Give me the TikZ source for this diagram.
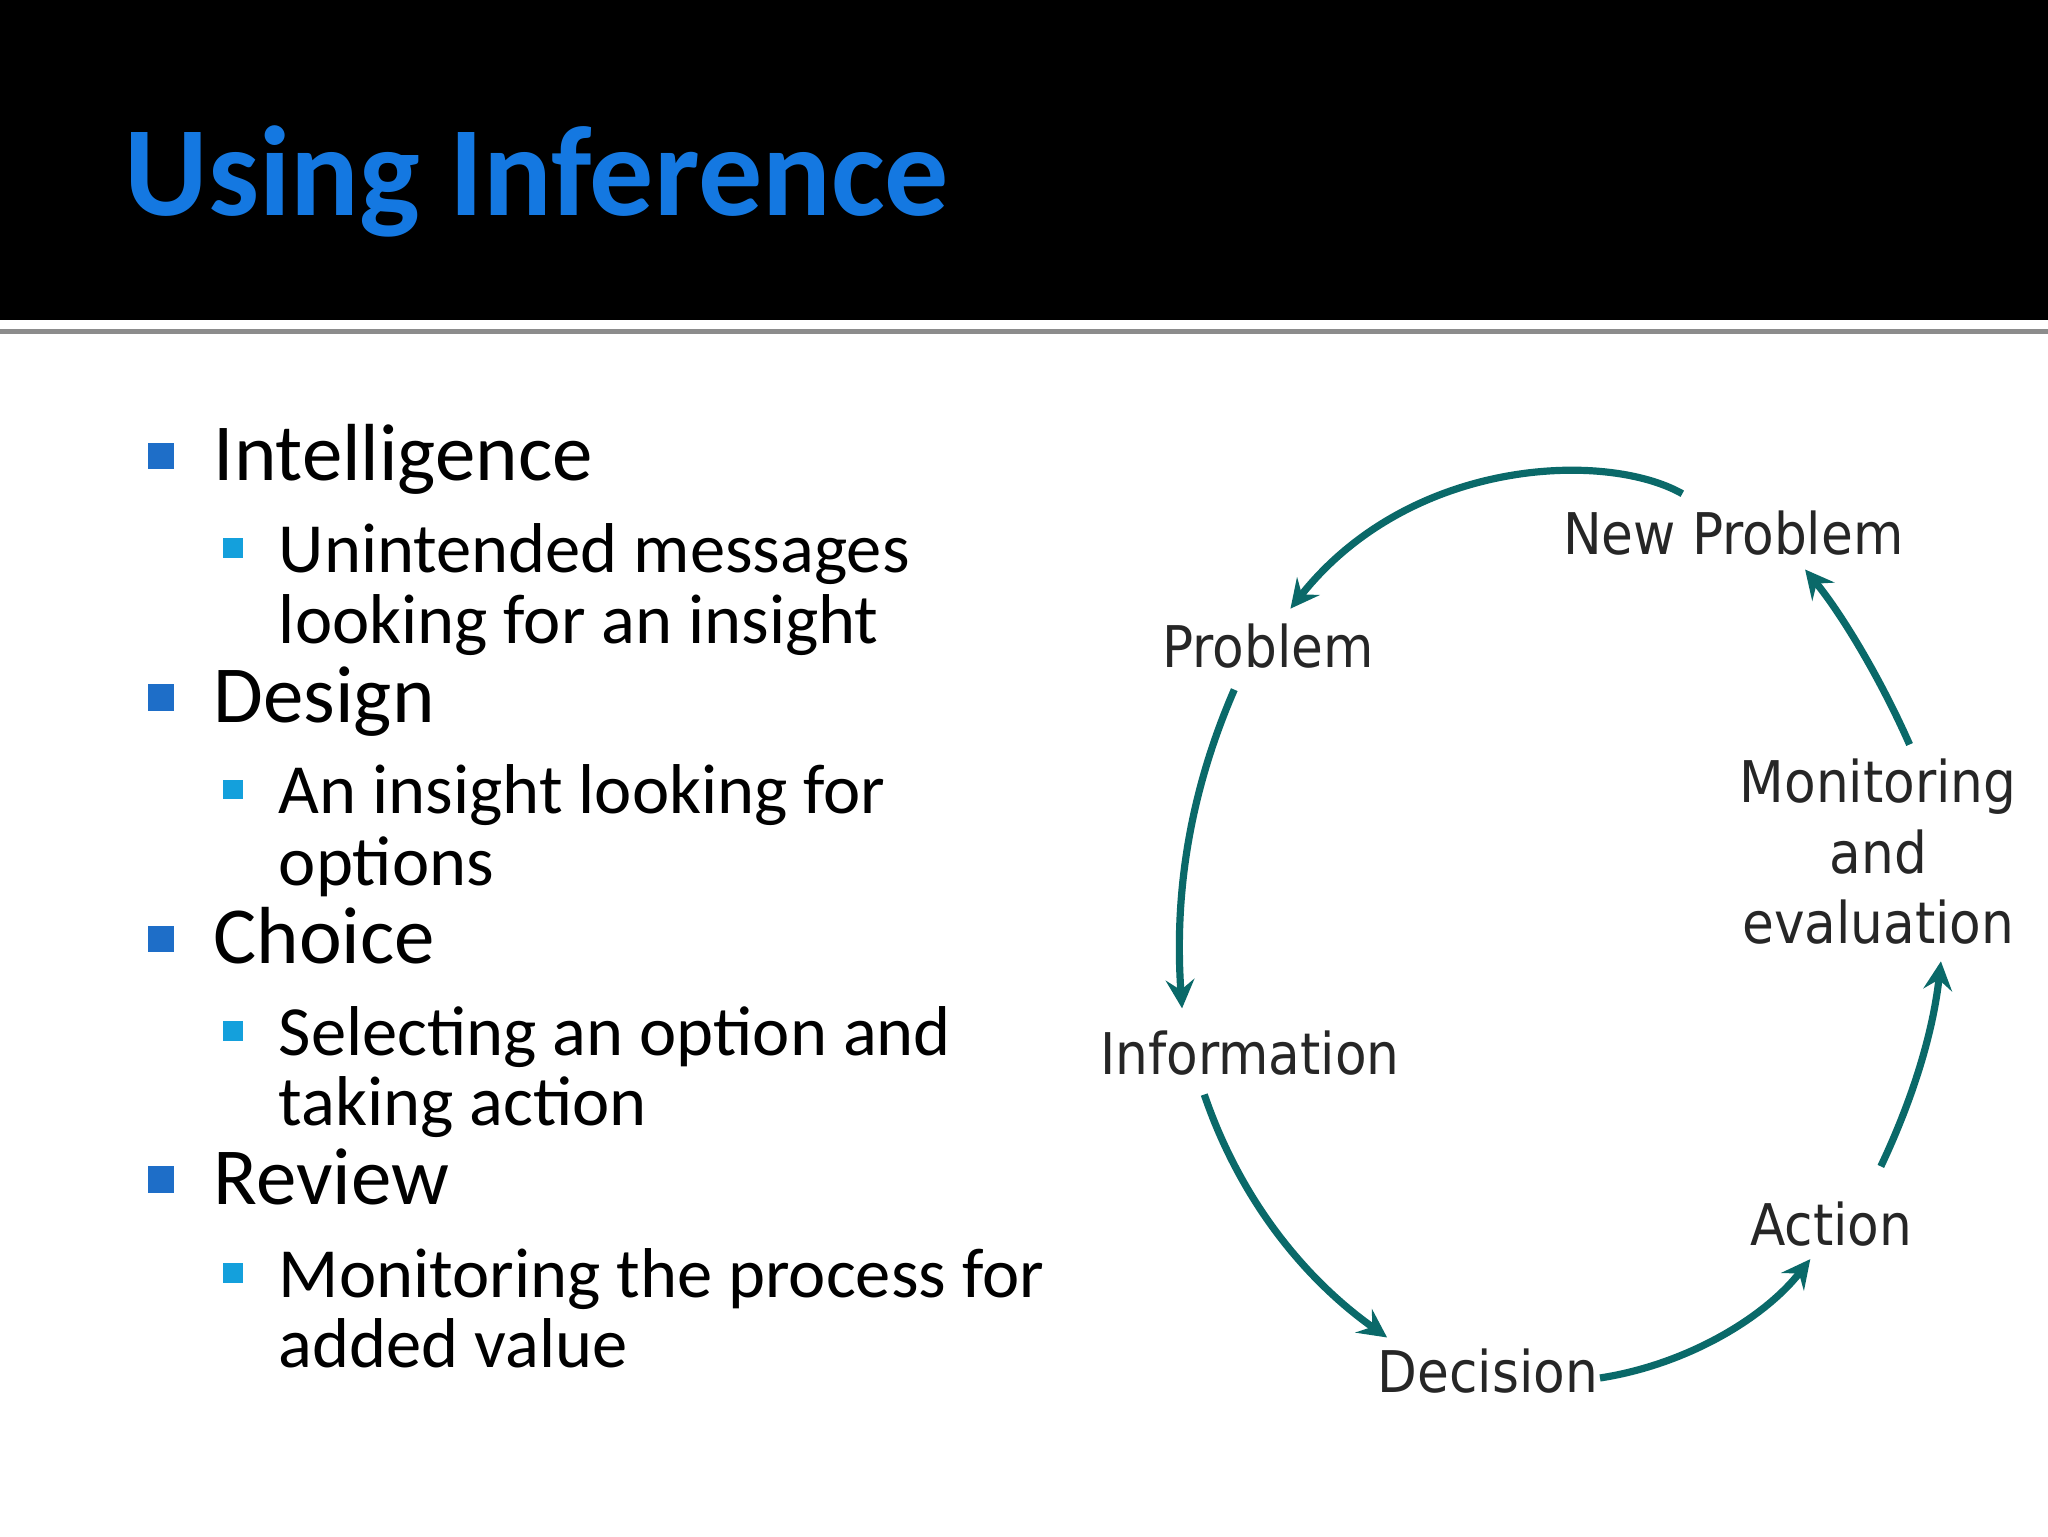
\documentclass[tikz,border=0pt]{standalone}
\usepackage{fontspec}
\setmainfont{Carlito}
\newfontfamily\diagfont{DejaVu Sans Condensed}
\usetikzlibrary{arrows.meta}
\definecolor{titleblue}{RGB}{20,120,225}
\definecolor{bulA}{RGB}{30,110,200}
\definecolor{bulB}{RGB}{20,160,220}
\definecolor{teal}{RGB}{10,105,105}
\tikzset{
 lone/.style={anchor=base west,font=\fontsize{62}{62}\selectfont},
 ltwo/.style={anchor=base west,font=\fontsize{54}{54}\selectfont},
 sqA/.style={fill=bulA},
 sqB/.style={fill=bulB},
 lab/.style={font=\diagfont\fontsize{44}{52}\selectfont,text=black!85,align=center},
 arr/.style={draw=teal,line width=5.5pt,-{Stealth[length=22pt,width=22pt,inset=8pt]}}
}
\begin{document}
\begin{tikzpicture}[x=1pt,y=-1pt]
\useasboundingbox (0,0) rectangle (1568,1176);
\fill[black] (0,0) rectangle (1568,245);
\fill[black!45] (0,252) rectangle (1568,256);
\node[anchor=base west,text=titleblue,font=\bfseries\fontsize{98}{98}\selectfont] (title) at (92,165) {Using Inference};
% bullets
\foreach \y/\t in {368/Intelligence,553/Design,738/Choice,922/Review}{
 \fill[sqA] (113,\y-29) rectangle (133,\y-9);
 \node[lone] at (160,\y) {\t};}
\foreach \y/\t in {438/Unintended messages,493/looking for an insight,623/An insight looking for,678/options,808/Selecting an option and,862/taking action,993/Monitoring the process for,1047/added value}{
 \node[ltwo] at (210,\y) {\t};}
\foreach \y in {438,623,808,993}{\fill[sqB] (171,\y-26) rectangle (186,\y-11);}
% diagram
\node[lab] (np) at (1327,408) {New Problem};
\node[lab] (pr) at (971,495) {Problem};
\node[lab] (in) at (957,806) {Information};
\node[lab] (de) at (1139,1050) {Decision};
\node[lab] (ac) at (1402,937) {Action};
\node[lab,font=\diagfont\fontsize{44}{54}\selectfont] (mo) at (1438,652) {Monitoring\\and\\evaluation};
\coordinate (a1s) at (1288,378); \coordinate (a1e) at (988,466);
\draw[arr] (a1s) .. controls (1230,345) and (1080,350) .. (a1e);
\coordinate (a2s) at (945,528); \coordinate (a2e) at (905,772);
\draw[arr] (a2s) .. controls (905,620) and (900,700) .. (a2e);
\coordinate (a3s) at (922,838); \coordinate (a3e) at (1062,1024);
\draw[arr] (a3s) .. controls (950,920) and (1000,980) .. (a3e);
\coordinate (a4s) at (1225,1055); \coordinate (a4e) at (1386,964);
\draw[arr] (a4s) .. controls (1290,1045) and (1350,1010) .. (a4e);
\coordinate (a5s) at (1440,893); \coordinate (a5e) at (1486,736);
\draw[arr] (a5s) .. controls (1465,840) and (1480,790) .. (a5e);
\coordinate (a6s) at (1462,570); \coordinate (a6e) at (1382,436);
\draw[arr] (a6s) .. controls (1440,520) and (1410,470) .. (a6e);
\end{tikzpicture}
\end{document}
